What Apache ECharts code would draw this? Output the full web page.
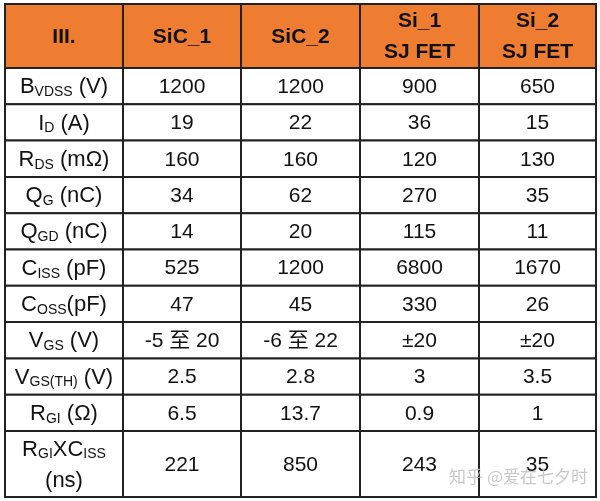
<!DOCTYPE html>
<html>
<head>
<meta charset="utf-8">
<script src="https://cdn.jsdelivr.net/npm/echarts@6/dist/echarts.min.js"></script>
<style>html,body{margin:0;padding:0;background:#fff}#c{width:600px;height:501px}</style>
</head>
<body>
<div id="c"></div>
<script>
const headers = ["III.", "SiC_1", "SiC_2", "Si_1\nSJ FET", "Si_2\nSJ FET"];
const rowLabels = [
    "{n|B}{s|VDSS}{n| (V)}",
    "{n|I}{s|D}{n| (A)}",
    "{n|R}{s|DS}{n| (mΩ)}",
    "{n|Q}{s|G}{n| (nC)}",
    "{n|Q}{s|GD}{n| (nC)}",
    "{n|C}{s|ISS}{n| (pF)}",
    "{n|C}{s|OSS}{n|(pF)}",
    "{n|V}{s|GS}{n| (V)}",
    "{n|V}{s|GS(TH)}{n| (V)}",
    "{n|R}{s|GI}{n| (Ω)}",
    "{n|R}{s|GI}{n|XC}{s|ISS}\n{n|(ns)}"
];
const sic1 = ["1200", "19", "160", "34", "14", "525", "47", "-5 至 20", "2.5", "6.5", "221"];
const sic2 = ["1200", "22", "160", "62", "20", "1200", "45", "-6 至 22", "2.8", "13.7", "850"];
const si1  = ["900", "36", "120", "270", "115", "6800", "330", "±20", "3", "0.9", "243"];
const si2  = ["650", "15", "130", "35", "11", "1670", "26", "±20", "3.5", "1", "35"];

// layout of the grid lines (pixel space)
const colEdges = [5, 123, 241, 360, 479, 596];
const rowEdges = [4, 68];
for (let i = 1; i <= 10; i++) rowEdges.push(68 + i * 36.3);
rowEdges.push(497);

const cells = [];
headers.forEach((h, c) => cells.push([c, 0, h]));
const cols = [rowLabels, sic1, sic2, si1, si2];
cols.forEach((col, c) => col.forEach((v, r) => cells.push([c, r + 1, v])));

const chart = echarts.init(document.getElementById("c"));
chart.setOption({
    animation: false,
    grid: { left: 0, right: 0, top: 0, bottom: 0 },
    xAxis: { type: "value", min: 0, max: 600, show: false },
    yAxis: { type: "value", min: 0, max: 501, inverse: true, show: false },
    series: [{
        type: "custom",
        data: cells,
        renderItem: function (params, api) {
            const c = api.value(0), r = api.value(1);
            const d = cells[params.dataIndex];
            const p0 = api.coord([colEdges[c], rowEdges[r]]);
            const p1 = api.coord([colEdges[c + 1], rowEdges[r + 1]]);
            const head = r === 0;
            return {
                type: "group",
                children: [
                    {
                        type: "rect",
                        shape: { x: p0[0], y: p0[1], width: p1[0] - p0[0], height: p1[1] - p0[1] },
                        style: { fill: head ? "#EE7D31" : "#fff", stroke: "#222", lineWidth: 2 }
                    },
                    {
                        type: "text",
                        style: {
                            x: (p0[0] + p1[0]) / 2,
                            y: (p0[1] + p1[1]) / 2 + 1,
                            text: d[2],
                            align: "center",
                            verticalAlign: "middle",
                            fontFamily: "Liberation Sans, Arial, Noto Sans CJK SC",
                            fontSize: 21,
                            fontWeight: head ? "bold" : "normal",
                            lineHeight: 31,
                            fill: "#111",
                            rich: {
                                n: { fontSize: 22, fill: "#111", fontFamily: "Liberation Sans", lineHeight: 31 },
                                s: { fontSize: 14, fill: "#111", fontFamily: "Liberation Sans", padding: [10, 0, 0, 0], lineHeight: 31 }
                            }
                        }
                    }
                ]
            };
        }
    }],
    graphic: [{
        type: "text",
        right: 12, bottom: 16,
        z: 100,
        style: { text: "知乎 @爱在七夕时", fontSize: 17, fill: "rgba(190,190,190,0.85)", fontFamily: "Noto Sans CJK SC" }
    }]
});
</script>
</body>
</html>
